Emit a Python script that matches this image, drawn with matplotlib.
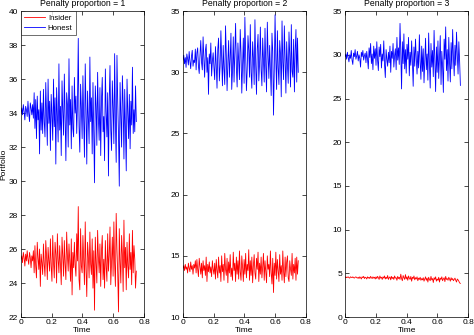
import numpy as np
import matplotlib
matplotlib.use("Agg")
import matplotlib.pyplot as plt

plt.rcParams['font.family'] = ['Liberation Sans', 'DejaVu Sans']
plt.rcParams['font.size'] = 6

# portfolio values, penalty proportion = 1
honest1 = [34.0, 34.3, 33.9, 34.5, 34.1, 33.6, 34.4, 34.2, 33.8, 34.7, 34.0, 33.5, 34.6, 34.3, 33.9, 34.5, 33.7,
           35.2, 33.1, 34.8, 32.5, 35.0, 33.6, 34.2, 31.6, 35.3, 33.0, 34.6, 32.8, 35.4, 33.5, 32.6, 35.8, 34.0,
           32.1, 36.0, 33.4, 34.7, 31.8, 35.1, 33.9,
           32.4, 36.0, 33.2, 34.9, 31.0, 35.5, 33.8, 32.3, 36.9, 33.0, 34.4, 31.5, 35.9, 34.1, 32.7, 36.3, 33.6,
           31.2, 35.2, 34.5, 32.0, 37.2, 33.3, 34.8, 31.9, 35.6, 33.1, 32.6, 36.1, 34.0,
           35.0, 32.8, 34.6, 38.4, 33.2, 31.7, 35.7, 34.3, 32.5, 36.2, 33.6, 31.4, 36.9, 34.2, 31.0, 35.3, 33.8,
           32.2, 37.3, 33.5, 34.9, 31.6, 35.8, 33.0, 29.9, 35.6, 34.4, 32.1, 36.4, 33.7,
           32.4, 35.5, 31.5, 34.8, 36.1, 32.9, 33.8, 31.2, 36.6, 34.1, 32.6, 35.2, 30.3, 34.7, 36.8, 33.0, 31.8,
           35.9, 34.3, 32.2, 37.5, 33.4, 31.1, 37.4, 34.6, 32.7, 29.7, 35.8, 33.9, 32.0, 36.2, 34.5, 31.3, 35.4,
           33.1, 30.6, 36.0, 34.0, 32.5, 35.1, 31.9, 34.7, 33.3, 36.7, 32.8, 34.2, 32.9, 35.6, 33.5]
insider1 = [25.4, 25.6, 25.2, 25.8, 25.5, 25.0, 25.7, 25.3, 25.9, 25.4, 25.1, 25.8, 25.5, 24.9, 25.6, 25.3, 25.9,
            24.6, 26.2, 25.0, 24.3, 26.4, 25.5, 24.8, 26.0, 23.8, 25.7, 25.2, 24.5, 26.3, 25.1, 24.4, 26.5, 25.6,
            24.2, 26.1, 25.3, 24.7, 26.6, 25.0, 24.1,
            26.8, 25.2, 24.3, 26.4, 25.7, 24.0, 26.9, 25.4, 24.6, 26.2, 25.0, 23.9, 26.7, 25.5, 24.4, 26.5, 25.1,
            24.2, 27.0, 25.6, 24.7, 26.3, 25.3, 24.1, 26.6, 23.3, 25.8, 24.9, 26.4, 25.0,
            24.4, 26.9, 25.3, 28.5, 24.2, 23.6, 27.2, 25.0, 24.6, 26.8, 25.4, 23.9, 27.6, 24.8, 23.2, 26.4, 25.6,
            24.3, 27.0, 25.1, 24.5, 26.6, 23.7, 25.9, 22.4, 26.7, 25.2, 24.0, 27.1, 25.5,
            24.6, 26.3, 23.8, 25.9, 26.8, 24.2, 25.4, 23.7, 26.5, 25.0, 24.1, 26.9, 24.7, 25.6, 27.3, 23.9, 25.2,
            26.7, 24.4, 27.6, 25.1, 23.8, 28.1, 26.0, 24.5, 22.3, 27.2, 25.3, 24.0, 26.8, 25.7, 23.5, 27.7, 24.9,
            26.1, 23.6, 26.4, 25.0, 24.3, 26.9, 24.8, 25.8, 23.9, 27.1, 24.6, 26.2, 25.4, 23.7, 24.7]

# penalty proportion = 2
honest2 = [31.0, 31.4, 30.7, 31.2, 30.4, 31.5, 31.1, 30.6, 31.7, 30.9, 30.3, 31.3, 31.8, 30.5, 31.0, 30.8, 31.9,
           30.2, 31.6, 32.0, 30.5, 29.9, 31.4, 32.6, 30.8, 30.2, 32.9, 31.1, 29.6, 31.8, 32.3, 30.0, 31.2, 28.2,
           31.5, 30.7, 32.4, 29.7, 30.9, 31.6, 30.4,
           29.4, 32.1, 30.6, 28.7, 31.9, 32.8, 29.3, 30.5, 33.4, 31.0, 28.9, 32.2, 30.3, 29.0, 33.8, 31.4, 28.5,
           30.8, 32.6, 29.6, 31.1, 33.2, 28.6, 30.1, 32.9, 29.2, 31.7, 34.0, 30.4, 28.8,
           32.4, 30.9, 29.4, 33.5, 31.6, 28.3, 30.7, 32.8, 29.1, 34.5, 31.3, 28.5, 30.2, 33.0, 31.8, 29.6, 33.9,
           30.0, 28.7, 32.5, 31.2, 29.0, 34.3, 30.6, 28.2, 31.9, 33.1, 29.3, 30.8, 33.7,
           30.2, 28.9, 32.8, 31.1, 29.2, 33.6, 30.5, 28.4, 34.1, 31.4, 29.5, 32.2, 30.0, 28.1, 33.2, 31.7, 26.5,
           30.3, 34.7, 31.0, 28.6, 33.4, 30.4, 29.0, 32.6, 31.5, 28.0, 34.2, 30.8, 29.4, 33.8, 31.2, 28.3, 32.5,
           30.6, 29.1, 33.3, 31.4, 28.8, 33.9, 30.1, 29.6, 32.7, 28.4, 31.8, 33.5, 29.2, 32.8, 30.0]
insider2 = [14.0, 14.2, 13.8, 14.3, 13.9, 14.1, 13.6, 14.4, 14.0, 13.7, 14.5, 13.9, 14.2, 13.5, 14.3, 14.0, 14.6,
            13.6, 14.7, 13.9, 13.3, 14.8, 14.1, 13.5, 14.4, 13.2, 14.6, 13.8, 14.2, 13.4, 14.9, 12.9, 14.3, 13.7,
            14.5, 13.6, 14.1, 13.3, 14.6, 13.9, 13.5,
            14.4, 13.1, 14.7, 13.8, 13.2, 14.9, 13.6, 14.2, 12.9, 15.0, 13.7, 14.3, 13.0, 15.2, 13.9, 13.4, 14.8,
            12.8, 14.5, 13.6, 15.1, 13.3, 14.0, 13.0, 15.3, 13.8, 14.4, 12.9, 14.9, 13.5,
            14.6, 13.1, 15.4, 13.7, 13.0, 15.0, 14.1, 12.9, 14.7, 13.5, 15.2, 13.2, 14.3, 13.8, 15.5, 13.0, 14.6,
            13.4, 14.9, 12.8, 14.2, 15.1, 13.6, 13.1, 14.8, 13.9, 15.3, 12.9, 14.4, 13.5,
            14.9, 13.2, 14.1, 15.2, 13.0, 14.6, 13.7, 12.8, 15.0, 13.9, 14.3, 13.3, 15.4, 13.6, 12.7, 14.8, 12.0,
            14.4, 13.4, 15.3, 13.1, 14.7, 13.8, 12.9, 15.1, 13.5, 14.2, 13.0, 15.4, 13.7, 12.8, 14.9, 13.3, 14.5,
            15.0, 13.2, 12.9, 14.6, 13.9, 13.4, 15.2, 13.1, 14.3, 13.6, 14.8, 13.0, 14.9, 13.5, 14.6]

# penalty proportion = 3
honest3 = [29.8, 30.1, 29.5, 30.3, 29.7, 29.2, 30.0, 29.6, 30.5, 29.4, 28.9, 30.2, 29.8, 30.6, 29.5, 29.9, 30.4,
           29.3, 30.0, 29.6, 28.6, 30.3, 29.8, 30.5, 29.4, 29.9, 30.2, 29.1, 30.4, 29.5, 28.4, 30.8, 29.7, 31.3,
           29.0, 30.1, 28.3, 31.0, 29.6, 30.7, 28.8,
           31.5, 29.4, 28.2, 30.9, 29.8, 31.2, 28.5, 30.1, 29.3, 31.6, 28.9, 27.4, 30.6, 29.5, 28.7, 30.3, 29.1,
           31.0, 28.0, 30.4, 29.6, 31.3, 28.6, 29.9, 30.7, 28.3, 32.0, 29.4, 30.8, 28.9,
           33.6, 30.2, 26.1, 31.5, 29.0, 32.4, 28.4, 30.6, 27.9, 31.2, 29.5, 32.0, 27.6, 30.3, 28.8, 31.6, 29.2,
           26.4, 30.9, 28.7, 31.8, 29.6, 27.8, 30.4, 28.5, 32.3, 29.3, 27.2, 31.0, 28.1,
           30.7, 26.8, 29.4, 31.9, 28.3, 30.1, 27.1, 32.5, 29.0, 26.2, 31.3, 28.6, 30.5, 27.5, 32.8, 29.2, 25.8,
           30.9, 28.0, 31.6, 27.3, 29.8, 32.2, 26.6, 30.4, 28.7, 25.7, 31.8, 29.5, 33.2, 28.2, 30.6, 27.0, 32.0,
           29.1, 26.9, 31.4, 28.4, 32.9, 29.7, 27.6, 31.1, 28.8, 32.6, 30.0, 27.8, 31.5, 29.3, 26.5]
insider3 = [4.5, 4.6, 4.5, 4.55, 4.6, 4.5, 4.45, 4.6, 4.55, 4.5, 4.6, 4.5, 4.45, 4.55, 4.6, 4.5, 4.45,
            4.55, 4.4, 4.6, 4.5, 4.35, 4.6, 4.5, 4.65, 4.4, 4.55, 4.5, 4.35, 4.6, 4.45, 4.55, 4.4, 4.65,
            4.5, 4.4, 4.6, 4.45, 4.55, 4.35, 4.6,
            4.4, 4.65, 4.5, 4.3, 4.7, 4.45, 4.55, 4.3, 4.6, 4.45, 4.7, 4.35, 4.55, 4.4, 4.75, 4.3, 4.5,
            4.6, 4.25, 4.65, 4.4, 4.55, 4.3, 4.7, 4.45, 4.5, 4.2, 4.65, 4.4, 4.55,
            4.3, 4.9, 4.4, 4.15, 4.75, 4.5, 4.3, 4.85, 4.35, 4.6, 4.2, 4.7, 4.45, 4.3, 4.65, 4.1, 4.55,
            4.4, 4.7, 4.25, 4.5, 4.35, 4.6, 4.15, 4.45, 4.3, 4.55, 4.2, 4.4, 4.25,
            4.5, 4.1, 4.35, 4.6, 4.2, 4.45, 4.0, 4.55, 4.3, 4.15, 4.65, 4.25, 4.4, 3.95, 4.5, 4.3, 4.6,
            4.1, 4.35, 4.2, 4.55, 4.0, 4.45, 4.3, 4.6, 4.15, 4.35, 4.5, 4.05, 4.65, 4.3, 4.4, 4.2, 4.55,
            4.35, 4.1, 4.5, 4.25, 4.4, 4.15, 4.3, 4.45, 4.2, 4.0, 4.35, 4.25, 4.1, 3.9, 3.85]

titles = ["Penalty proportion = 1", "Penalty proportion = 2", "Penalty proportion = 3"]
ylims = [(22, 40), (10, 35), (0, 35)]
ysteps = [2, 5, 5]
series = [(insider1, honest1), (insider2, honest2), (insider3, honest3)]
t_end = 0.75

fig = plt.figure(figsize=(4.74, 3.35), dpi=100)
lefts = [0.0443, 0.386, 0.728]

for k in range(3):
    ax = fig.add_axes([lefts[k], 0.0537, 0.2595, 0.913])
    ins, hon = series[k]
    t_ins = np.linspace(0, t_end, len(ins))
    t_hon = np.linspace(0, t_end, len(hon))
    ax.plot(t_ins, ins, color='#ff0000', lw=0.6, label='Insider')
    ax.plot(t_hon, hon, color='#0000ff', lw=0.6, label='Honest')
    ax.set_xlim(0, 0.8)
    ax.set_ylim(*ylims[k])
    ax.set_xticks(np.arange(0, 0.81, 0.2))
    ax.set_xticklabels(['0', '0.2', '0.4', '0.6', '0.8'])
    ax.set_yticks(np.arange(ylims[k][0], ylims[k][1] + 0.1, ysteps[k]))
    ax.tick_params(direction='in', top=True, right=True, length=3, width=0.5, labelsize=6)
    ax.tick_params(axis='x', pad=1.5)
    ax.tick_params(axis='y', pad=2)
    for s in ax.spines.values():
        s.set_linewidth(0.5)
    ax.set_title(titles[k], fontsize=6.2, pad=3.5)
    ax.set_xlabel('Time', fontsize=6, labelpad=0.3)
    if k == 0:
        ax.set_ylabel('Portfolio', fontsize=6, labelpad=1)
        leg = ax.legend(loc='upper left', borderaxespad=0, fancybox=False, edgecolor='black',
                        fontsize=5.6, handlelength=2.6, handletextpad=0.4, borderpad=0.45,
                        labelspacing=0.3)
        leg.get_frame().set_linewidth(0.5)

fig.savefig('out.png', dpi=100)
